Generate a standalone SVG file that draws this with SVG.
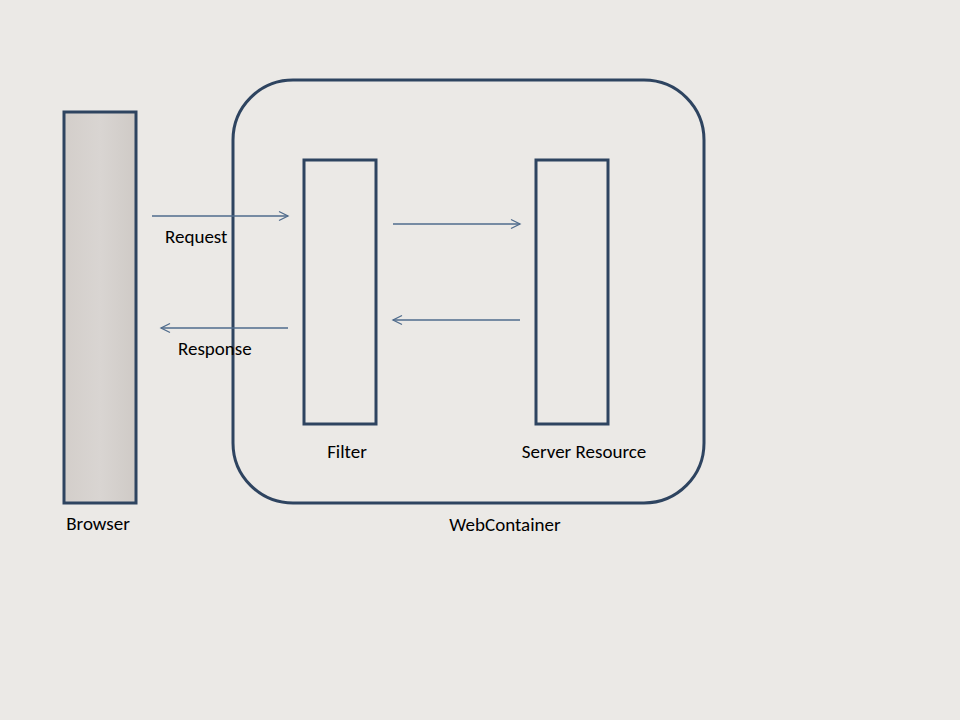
<svg xmlns="http://www.w3.org/2000/svg" width="960" height="720" viewBox="0 0 960 720">
<defs>
<style>
.box{fill:#ebe9e6;stroke:#2e4460;stroke-width:3}
.t{font-family:Calibri,"Open Sans","Liberation Sans",sans-serif;font-size:19px;fill:#000}
.c{stroke:#4f6b8c;stroke-width:1.3;fill:none}
</style>
<linearGradient id="g" x1="0" x2="1"><stop offset="0" stop-color="#d3ceca"/><stop offset="0.5" stop-color="#d9d5d2"/><stop offset="1" stop-color="#cfcac6"/></linearGradient>
<marker id="a" markerWidth="12" markerHeight="12" refX="10" refY="6" orient="auto" markerUnits="userSpaceOnUse"><path d="M1,1.5 L10,6 L1,10.5" fill="none" stroke="#4f6b8c" stroke-width="1.3"/></marker>
</defs>
<rect width="960" height="720" fill="#ebe9e6"/>
<g id="webcontainer"><rect x="233" y="80" width="471" height="423" rx="60" class="box" fill="none"/><text x="505" y="531" class="t" text-anchor="middle">WebContainer</text></g>
<g id="browser"><rect x="64" y="112" width="72" height="391" class="box" style="fill:url(#g)"/><text x="98" y="530" class="t" text-anchor="middle">Browser</text></g>
<g id="filter"><rect x="304" y="160" width="72" height="264" class="box"/><text x="347" y="458" class="t" text-anchor="middle">Filter</text></g>
<g id="server"><rect x="536" y="160" width="72" height="264" class="box"/><text x="584" y="458" class="t" text-anchor="middle">Server Resource</text></g>
<g id="connectors">
<line x1="152" y1="216" x2="288" y2="216" class="c" marker-end="url(#a)"/>
<line x1="288" y1="328" x2="161" y2="328" class="c" marker-end="url(#a)"/>
<line x1="393" y1="224" x2="520" y2="224" class="c" marker-end="url(#a)"/>
<line x1="520" y1="320" x2="393" y2="320" class="c" marker-end="url(#a)"/>
</g>
<text x="165" y="243" class="t">Request</text>
<text x="178" y="355" class="t">Response</text>
</svg>
